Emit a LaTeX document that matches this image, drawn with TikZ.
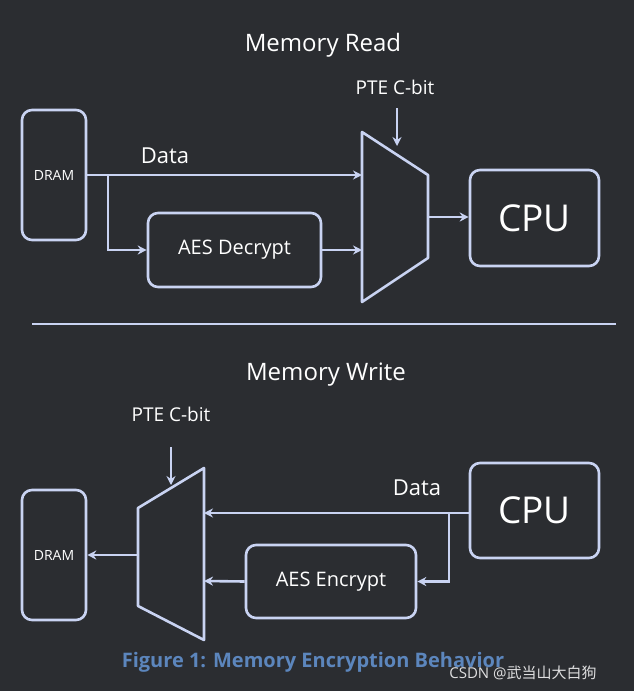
\documentclass[tikz,border=0pt]{standalone}
\usepackage{fontspec}
\setmainfont{Open Sans}
\newfontfamily\cjk{Noto Sans CJK SC}
\usetikzlibrary{arrows.meta}
\definecolor{bg}{HTML}{2B2D31}
\definecolor{ln}{HTML}{C9D3F2}
\definecolor{cap}{HTML}{5C86BD}
\begin{document}
\begin{tikzpicture}[x=1pt,y=-1pt,
  wire/.style={draw=ln,line width=2.6pt},
  arr/.style={wire,-{Stealth[length=9pt,width=9pt]}},
  box/.style={draw=ln,line width=2.6pt,rounded corners=10pt,fill=bg,text=white},
  lbl/.style={text=white,inner sep=0pt}]
\fill[bg] (0,0) rectangle (634,691);
\useasboundingbox (0,0) rectangle (634,691);
% Read
\node[lbl,font=\fontsize{24}{28}\selectfont] (t1) at (323,45) {Memory Read};
\node[lbl,font=\fontsize{19}{22}\selectfont] (p1) at (395,87) {PTE C-bit};
\node[box,minimum width=64pt,minimum height=130pt,font=\fontsize{14}{16}\selectfont] (d1) at (54,175) {DRAM};
\node[box,minimum width=173pt,minimum height=74pt,font=\fontsize{20}{24}\selectfont] (aes1) at (234.5,250) {AES Decrypt};
\node[box,minimum width=129pt,minimum height=96pt,font=\fontsize{37}{42}\selectfont] (cpu1) at (534.5,218) {CPU};
\draw[wire,fill=bg,line join=round] (362,132) -- (428,175) -- (428,258) -- (362,302) -- cycle;
\coordinate (m1in1) at (362,175); \coordinate (m1in2) at (362,250);
\coordinate (m1out) at (428,217); \coordinate (m1top) at (397,146);
\coordinate (p1s) at (397,108); \coordinate (b1) at (108,175);
\draw[arr] (d1.east|-m1in1) -- (m1in1);
\node[lbl,font=\fontsize{22}{26}\selectfont] (dl1) at (165,156) {Data};
\draw[arr] (b1) |- (aes1.west);
\draw[arr] (aes1.east) -- (m1in2);
\draw[arr] (p1s) -- (m1top);
\draw[arr] (m1out) -- (cpu1.west|-m1out);
% divider
\coordinate (hl) at (32,324); \coordinate (hr) at (616,324);
\draw[wire] (hl) -- (hr);
% Write
\node[lbl,font=\fontsize{24}{28}\selectfont] (t2) at (326,375) {Memory Write};
\node[lbl,font=\fontsize{19}{22}\selectfont] (p2) at (171,414) {PTE C-bit};
\node[box,minimum width=64pt,minimum height=130pt,font=\fontsize{14}{16}\selectfont] (d2) at (54,555) {DRAM};
\node[box,minimum width=170pt,minimum height=73pt,font=\fontsize{20}{24}\selectfont] (aes2) at (331,581.5) {AES Encrypt};
\node[box,minimum width=129pt,minimum height=95pt,font=\fontsize{37}{42}\selectfont] (cpu2) at (534.5,510.5) {CPU};
\draw[wire,fill=bg,line join=round] (138,508) -- (204,468) -- (204,640) -- (138,606) -- cycle;
\coordinate (m2in1) at (204,513); \coordinate (m2in2) at (204,581);
\coordinate (m2out) at (138,555); \coordinate (m2top) at (171,485);
\coordinate (p2s) at (171,447); \coordinate (b2) at (449,513);
\draw[arr] (cpu2.west|-m2in1) -- (m2in1);
\node[lbl,font=\fontsize{22}{26}\selectfont] (dl2) at (417,488) {Data};
\draw[arr] (b2) |- (aes2.east);
\draw[arr] (aes2.west) -- (m2in2);
\draw[arr] (p2s) -- (m2top);
\draw[arr] (m2out) -- (d2.east|-m2out);
\node[lbl,text=cap,font=\bfseries\fontsize{20}{24}\selectfont] (cap) at (313,662) {Figure 1: Memory Encryption Behavior};
\node[lbl,text=white!85!bg,font=\fontsize{15}{18}\selectfont] (wm) at (523,673) {CSDN @{\cjk 武当山大白狗}};
\end{tikzpicture}
\end{document}
